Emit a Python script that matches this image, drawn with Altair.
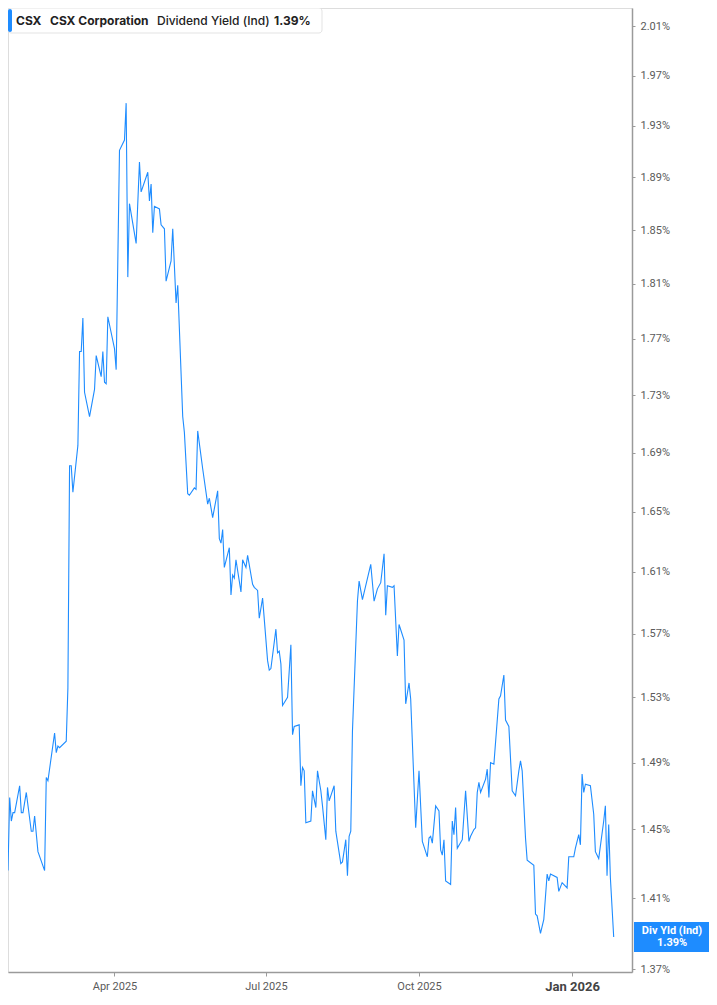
import altair as alt
import pandas as pd

# ---- data ----
dates = [
    "2025-01-27", "2025-01-28", "2025-01-29", "2025-01-30", "2025-01-31", "2025-02-03", "2025-02-04",
    "2025-02-05", "2025-02-07", "2025-02-10", "2025-02-11", "2025-02-12", "2025-02-14", "2025-02-18",
    "2025-02-19", "2025-02-20", "2025-02-24", "2025-02-25", "2025-02-26", "2025-02-27", "2025-03-03",
    "2025-03-04", "2025-03-05", "2025-03-06", "2025-03-07", "2025-03-10", "2025-03-11", "2025-03-12",
    "2025-03-13", "2025-03-14", "2025-03-17", "2025-03-20", "2025-03-21", "2025-03-24", "2025-03-25",
    "2025-03-26", "2025-03-27", "2025-03-28", "2025-04-01", "2025-04-02", "2025-04-04", "2025-04-07",
    "2025-04-08", "2025-04-09", "2025-04-10", "2025-04-14", "2025-04-16", "2025-04-17", "2025-04-21",
    "2025-04-22", "2025-04-23", "2025-04-24", "2025-04-25", "2025-04-28", "2025-04-29", "2025-05-01",
    "2025-05-02", "2025-05-05", "2025-05-06", "2025-05-08", "2025-05-09", "2025-05-12", "2025-05-13",
    "2025-05-15", "2025-05-16", "2025-05-19", "2025-05-20", "2025-05-21", "2025-05-24", "2025-05-27",
    "2025-05-28", "2025-05-30", "2025-06-02", "2025-06-03", "2025-06-04", "2025-06-05", "2025-06-06",
    "2025-06-09", "2025-06-10", "2025-06-11", "2025-06-12", "2025-06-13", "2025-06-16", "2025-06-17",
    "2025-06-19", "2025-06-20", "2025-06-23", "2025-06-24", "2025-06-26", "2025-06-27", "2025-06-29",
    "2025-07-02", "2025-07-03", "2025-07-04", "2025-07-07", "2025-07-08", "2025-07-09", "2025-07-10",
    "2025-07-11", "2025-07-14", "2025-07-16", "2025-07-17", "2025-07-18", "2025-07-21", "2025-07-22",
    "2025-07-23", "2025-07-24", "2025-07-25", "2025-07-28", "2025-07-29", "2025-07-31", "2025-08-01",
    "2025-08-03", "2025-08-04", "2025-08-06", "2025-08-07", "2025-08-08", "2025-08-11", "2025-08-12",
    "2025-08-15", "2025-08-16", "2025-08-18", "2025-08-19", "2025-08-20", "2025-08-21", "2025-08-22",
    "2025-08-25", "2025-08-26", "2025-08-28", "2025-09-02", "2025-09-04", "2025-09-06", "2025-09-08",
    "2025-09-10", "2025-09-11", "2025-09-12", "2025-09-15", "2025-09-16", "2025-09-18", "2025-09-19",
    "2025-09-22", "2025-09-23", "2025-09-25", "2025-09-26", "2025-09-29", "2025-10-01", "2025-10-03",
    "2025-10-06", "2025-10-07", "2025-10-08", "2025-10-09", "2025-10-11", "2025-10-13", "2025-10-14",
    "2025-10-15", "2025-10-16", "2025-10-17", "2025-10-20", "2025-10-21", "2025-10-22", "2025-10-23",
    "2025-10-24", "2025-10-27", "2025-10-29", "2025-10-31", "2025-11-01", "2025-11-03", "2025-11-04",
    "2025-11-05", "2025-11-06", "2025-11-07", "2025-11-10", "2025-11-11", "2025-11-12", "2025-11-13",
    "2025-11-15", "2025-11-18", "2025-11-19", "2025-11-21", "2025-11-22", "2025-11-24", "2025-11-26",
    "2025-11-28", "2025-11-30", "2025-12-01", "2025-12-02", "2025-12-04", "2025-12-05", "2025-12-09",
    "2025-12-10", "2025-12-11", "2025-12-13", "2025-12-15", "2025-12-17", "2025-12-18", "2025-12-19",
    "2025-12-23", "2025-12-24", "2025-12-26", "2025-12-29", "2025-12-30", "2026-01-02", "2026-01-03",
    "2026-01-05", "2026-01-06", "2026-01-07", "2026-01-08", "2026-01-09", "2026-01-12", "2026-01-14",
    "2026-01-15", "2026-01-17", "2026-01-20", "2026-01-21", "2026-01-22", "2026-01-23", "2026-01-24",
    "2026-01-26",
]

yield_pct = [
    1.426, 1.469, 1.455, 1.460, 1.460, 1.476, 1.460,
    1.460, 1.472, 1.449, 1.449, 1.458, 1.437, 1.426,
    1.481, 1.479, 1.508, 1.496, 1.500, 1.499, 1.503,
    1.536, 1.681, 1.681, 1.663, 1.695, 1.761, 1.761,
    1.785, 1.732, 1.715, 1.734, 1.758, 1.743, 1.761,
    1.739, 1.738, 1.786, 1.763, 1.748, 1.911, 1.919,
    1.948, 1.815, 1.870, 1.840, 1.902, 1.879, 1.894,
    1.872, 1.885, 1.848, 1.868, 1.866, 1.854, 1.851,
    1.812, 1.827, 1.851, 1.796, 1.809, 1.715, 1.704,
    1.662, 1.661, 1.666, 1.665, 1.705, 1.679, 1.655,
    1.659, 1.646, 1.664, 1.632, 1.629, 1.638, 1.613,
    1.626, 1.595, 1.608, 1.606, 1.618, 1.597, 1.618,
    1.613, 1.621, 1.602, 1.600, 1.598, 1.580, 1.593,
    1.553, 1.547, 1.548, 1.573, 1.558, 1.559, 1.551,
    1.525, 1.530, 1.563, 1.507, 1.512, 1.513, 1.476,
    1.487, 1.485, 1.454, 1.455, 1.473, 1.463, 1.485,
    1.473, 1.464, 1.444, 1.475, 1.467, 1.476, 1.449,
    1.430, 1.431, 1.444, 1.423, 1.446, 1.449, 1.509,
    1.591, 1.604, 1.592, 1.615, 1.591, 1.599, 1.603,
    1.622, 1.582, 1.601, 1.600, 1.601, 1.556, 1.576,
    1.566, 1.526, 1.539, 1.529, 1.451, 1.485, 1.443,
    1.434, 1.445, 1.446, 1.442, 1.464, 1.461, 1.438,
    1.435, 1.444, 1.420, 1.418, 1.455, 1.447, 1.463,
    1.439, 1.444, 1.473, 1.443, 1.446, 1.450, 1.451,
    1.472, 1.478, 1.472, 1.480, 1.486, 1.469, 1.490,
    1.489, 1.529, 1.531, 1.544, 1.516, 1.512, 1.473,
    1.470, 1.485, 1.491, 1.485, 1.445, 1.432, 1.429,
    1.401, 1.400, 1.390, 1.398, 1.424, 1.420, 1.424,
    1.422, 1.414, 1.419, 1.416, 1.434, 1.434, 1.439,
    1.447, 1.441, 1.483, 1.472, 1.477, 1.476, 1.459,
    1.437, 1.433, 1.455, 1.464, 1.423, 1.453, 1.422,
    1.388,
]

y_ticks = [1.37, 1.41, 1.45, 1.49, 1.53, 1.57, 1.61, 1.65, 1.69,
           1.73, 1.77, 1.81, 1.85, 1.89, 1.93, 1.97, 2.01]
x_tick_dates = [(2025, 4, 1), (2025, 7, 1), (2025, 10, 1), (2026, 1, 1)]

ticker = "CSX"
company = "CSX Corporation"
metric = "Dividend Yield (Ind)"
end_label = "Div Yld (Ind)"
last_text = f"{yield_pct[-1]:.2f}%"

# ---- chart ----
W, H = 624, 964
RIGHT_PAD, BOTTOM_PAD = 77, 22
BLUE = "#1e8cff"
AXIS_GREY = "#9a9a9a"

df = pd.DataFrame({"date": dates, "value": yield_pct})
last = df.iloc[[-1]].copy()

xscale = alt.Scale(
    type="utc",
    domain=[alt.DateTime(year=2025, month=1, date=27, utc=True),
            alt.DateTime(year=2026, month=2, date=6, utc=True)],
    nice=False,
)
yscale = alt.Scale(type="log", domain=[1.3684, 2.0248], nice=False, zero=False)

JAN = "utcmonth(datum.value) == 0"
x_axis = alt.Axis(
    values=[alt.DateTime(year=y, month=m, date=d, utc=True) for (y, m, d) in x_tick_dates],
    labelExpr="utcFormat(datum.value, '%b %Y')",
    title=None,
    grid=False,
    domainColor=AXIS_GREY,
    domainWidth=1.5,
    tickColor=AXIS_GREY,
    tickSize=4,
    labelFont="Roboto",
    labelFontSize={"condition": {"test": JAN, "value": 13}, "value": 11},
    labelFontWeight={"condition": {"test": JAN, "value": "bold"}, "value": "normal"},
    labelColor={"condition": {"test": JAN, "value": "#444444"}, "value": "#5a5a5a"},
    labelPadding=4,
)

y_axis = alt.Axis(
    orient="right",
    values=y_ticks,
    labelExpr="format(datum.value, '.2f') + '%'",
    title=None,
    grid=False,
    domainColor=AXIS_GREY,
    domainWidth=1.5,
    tickColor=AXIS_GREY,
    tickSize=3,
    labelFont="Roboto",
    labelFontSize=11,
    labelColor="#5a5a5a",
    labelPadding=5,
)

y_enc = alt.Y("value:Q", scale=yscale, axis=y_axis)

line = alt.Chart(df).mark_line(color=BLUE, strokeWidth=1.1, clip=True).encode(
    x=alt.X("date:T", scale=xscale, axis=x_axis),
    y=y_enc,
)

end_box = alt.Chart(last).mark_rect(color=BLUE, yOffset=-15, y2Offset=15).encode(
    x=alt.value(W + 2), x2=alt.value(W + RIGHT_PAD + 4),
    y=y_enc, y2="value:Q",
)
end_txt1 = alt.Chart(last).mark_text(
    text=end_label, color="white", fontWeight="bold", fontSize=11, font="Roboto",
    align="center", baseline="middle", dy=-6,
).encode(x=alt.value(W + 40), y=y_enc)
end_txt2 = alt.Chart(last).mark_text(
    text=last_text, color="white", fontWeight="bold", fontSize=11, font="Roboto",
    align="center", baseline="middle", dy=6,
).encode(x=alt.value(W + 40), y=y_enc)

# header box (top-left)
hdr_box = alt.Chart(last).mark_rect(
    fill="white", stroke="#e3e3e3", strokeWidth=1, cornerRadius=3
).encode(x=alt.value(0), x2=alt.value(314), y=alt.value(0), y2=alt.value(25))
hdr_bar = alt.Chart(last).mark_rect(fill=BLUE, cornerRadius=2).encode(
    x=alt.value(0), x2=alt.value(4), y=alt.value(1), y2=alt.value(24)
)


def hdr_text(t, xpos, weight):
    return alt.Chart(last).mark_text(
        text=t, font="Inter", fontSize=12, fontWeight=weight, color="#222222",
        align="left", baseline="middle",
    ).encode(x=alt.value(xpos), y=alt.value(12.5))


chart = alt.layer(
    line, end_box, end_txt1, end_txt2,
    hdr_box, hdr_bar,
    hdr_text(ticker, 8, "bold"),
    hdr_text(company, 42, "bold"),
    hdr_text(metric, 149, 500),
    hdr_text(last_text, 266, "bold"),
).properties(
    width=W, height=H,
    autosize=alt.AutoSizeParams(type="none"),
    padding={"left": 0, "top": 0, "right": RIGHT_PAD, "bottom": BOTTOM_PAD},
).configure_view(stroke=None).configure(background="white")

chart.save("out.html", embed_options={"renderer": "svg", "actions": False})
